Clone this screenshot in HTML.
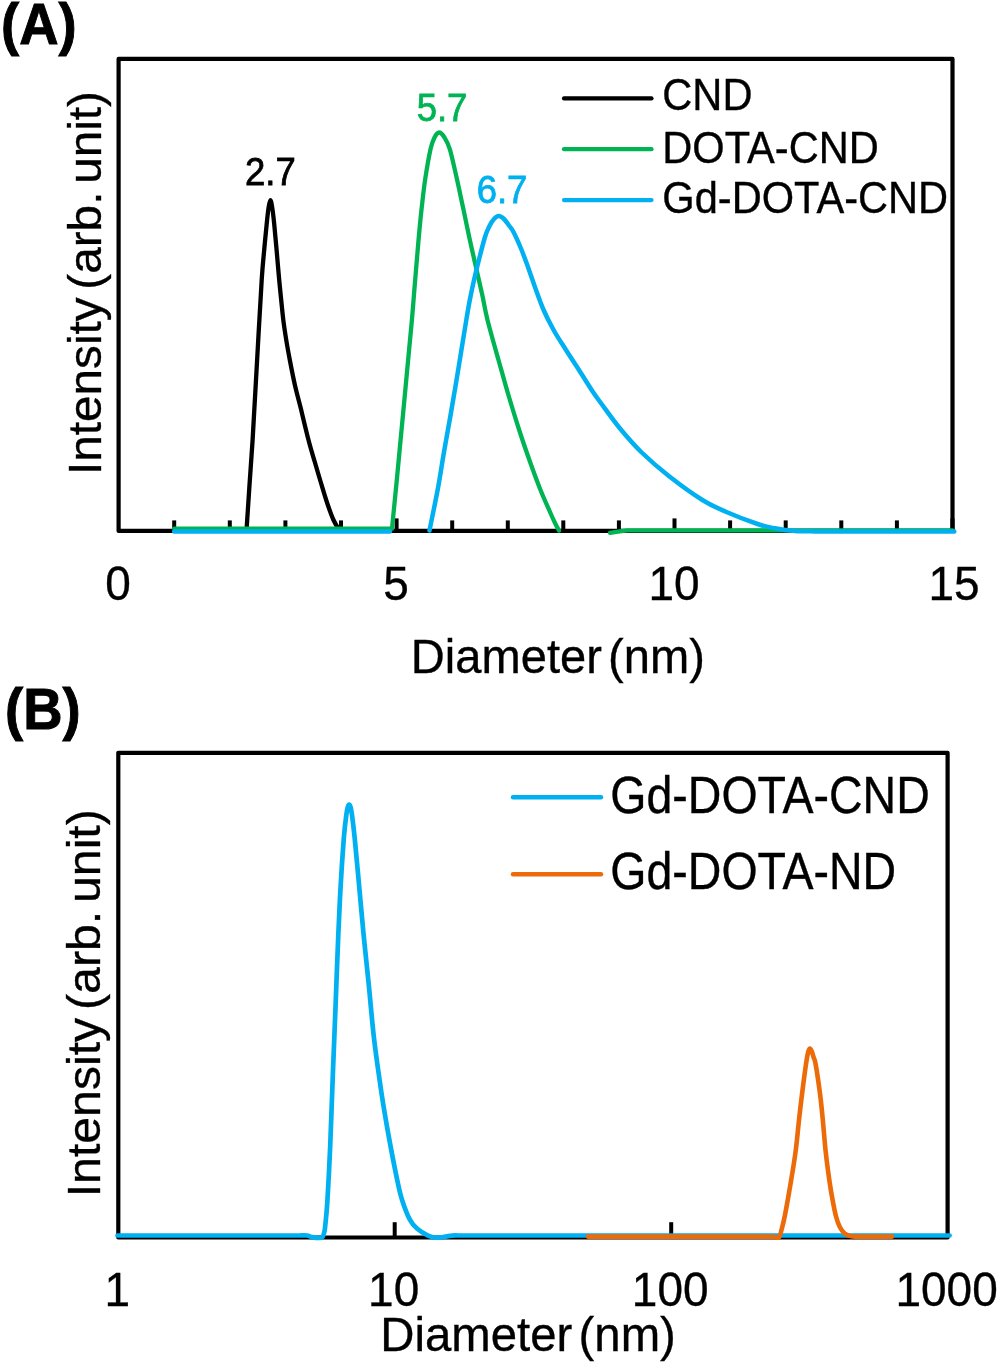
<!DOCTYPE html>
<html lang="en"><head><meta charset="utf-8"><title>DLS size distributions</title>
<style>
html,body{margin:0;padding:0;background:#fff;overflow:hidden}
svg{display:block;filter:blur(0.55px)}
text{font-family:"Liberation Sans",Arial,Helvetica,sans-serif}
</style></head><body>
<svg width="1000" height="1367" viewBox="0 0 1000 1367">
<rect width="1000" height="1367" fill="#fff"/>
<g id="panelA">
<rect x="118.6" y="58.8" width="833.9" height="472.1" fill="none" stroke="#000" stroke-width="4.2" stroke-linejoin="round"/>
<line x1="174.2" y1="530.9" x2="174.2" y2="520.4" stroke="#000" stroke-width="4"/>
<line x1="229.8" y1="530.9" x2="229.8" y2="520.4" stroke="#000" stroke-width="4"/>
<line x1="285.4" y1="530.9" x2="285.4" y2="520.4" stroke="#000" stroke-width="4"/>
<line x1="341.0" y1="530.9" x2="341.0" y2="520.4" stroke="#000" stroke-width="4"/>
<line x1="396.6" y1="530.9" x2="396.6" y2="518.4" stroke="#000" stroke-width="4"/>
<line x1="452.2" y1="530.9" x2="452.2" y2="520.4" stroke="#000" stroke-width="4"/>
<line x1="507.8" y1="530.9" x2="507.8" y2="520.4" stroke="#000" stroke-width="4"/>
<line x1="563.3" y1="530.9" x2="563.3" y2="520.4" stroke="#000" stroke-width="4"/>
<line x1="618.9" y1="530.9" x2="618.9" y2="520.4" stroke="#000" stroke-width="4"/>
<line x1="674.5" y1="530.9" x2="674.5" y2="518.4" stroke="#000" stroke-width="4"/>
<line x1="730.1" y1="530.9" x2="730.1" y2="520.4" stroke="#000" stroke-width="4"/>
<line x1="785.7" y1="530.9" x2="785.7" y2="520.4" stroke="#000" stroke-width="4"/>
<line x1="841.3" y1="530.9" x2="841.3" y2="520.4" stroke="#000" stroke-width="4"/>
<line x1="896.9" y1="530.9" x2="896.9" y2="520.4" stroke="#000" stroke-width="4"/>
<line x1="952.5" y1="530.9" x2="952.5" y2="518.4" stroke="#000" stroke-width="4"/>
<path d="M246.5 530.5 C247.0 522.9 248.5 500.1 249.5 485.0 C250.5 469.9 251.3 460.5 252.6 440.0 C253.8 419.5 255.5 388.7 257.0 362.0 C258.5 335.3 260.5 298.7 261.7 280.0 C262.9 261.3 263.4 259.2 264.2 250.0 C265.0 240.8 265.9 232.1 266.6 225.0 C267.3 217.9 268.0 211.6 268.6 207.5 C269.2 203.4 269.8 200.2 270.4 200.2 C271.0 200.2 271.5 203.4 272.2 207.5 C272.9 211.6 273.6 217.9 274.3 225.0 C275.0 232.1 275.8 240.8 276.6 250.0 C277.4 259.2 278.4 271.7 279.2 280.0 C280.0 288.3 280.5 293.3 281.2 300.0 C281.9 306.7 282.5 313.6 283.3 320.0 C284.1 326.4 284.9 331.5 286.0 338.5 C287.1 345.5 288.7 354.2 290.2 362.0 C291.7 369.8 293.2 377.6 295.0 385.4 C296.8 393.2 298.6 399.7 300.9 408.8 C303.1 417.9 306.2 431.1 308.5 440.0 C310.8 448.9 312.7 454.8 314.8 462.0 C316.9 469.2 318.9 476.0 321.0 483.0 C323.1 490.0 325.4 497.8 327.5 504.0 C329.6 510.2 331.5 515.6 333.5 520.0 C335.5 524.4 338.5 528.8 339.5 530.5" fill="none" stroke="#000" stroke-width="4.3" stroke-linejoin="round"/>
<path d="M174.2 528.7 L391.6 528.7 L392.0 528.7 C392.8 520.2 395.3 495.3 397.0 478.0 C398.7 460.7 400.3 442.7 402.0 425.0 C403.7 407.3 405.4 389.5 407.0 372.0 C408.6 354.5 410.8 332.8 411.9 320.0 C413.0 307.2 413.2 304.4 413.9 295.5 C414.6 286.6 415.5 276.1 416.3 266.3 C417.1 256.6 417.9 246.8 418.8 237.0 C419.7 227.2 420.6 217.6 421.7 207.8 C422.8 198.1 423.8 188.2 425.3 178.5 C426.8 168.8 429.0 156.1 430.5 149.3 C432.0 142.5 433.1 140.3 434.5 137.5 C435.9 134.7 437.5 132.5 439.2 132.5 C440.9 132.5 442.7 134.7 444.5 137.5 C446.3 140.3 447.8 142.5 449.9 149.3 C451.9 156.1 454.6 168.8 456.8 178.5 C459.0 188.2 461.0 198.1 463.1 207.8 C465.2 217.6 467.1 227.2 469.2 237.0 C471.3 246.8 473.6 256.6 475.8 266.3 C478.0 276.1 480.4 286.6 482.4 295.5 C484.3 304.4 484.8 309.2 487.5 320.0 C490.2 330.8 494.9 347.2 498.5 360.0 C502.1 372.8 505.5 385.2 509.0 397.0 C512.5 408.8 515.9 419.8 519.5 431.0 C523.1 442.2 527.3 454.2 530.8 464.0 C534.3 473.8 537.3 482.0 540.5 490.0 C543.7 498.0 547.6 506.5 550.0 512.0 C552.4 517.5 553.5 519.9 555.0 523.0 C556.5 526.1 558.3 529.2 559.0 530.5 M610 532.8 L618 531.6 L627 530.3 L952.5 530.3" fill="none" stroke="#00b454" stroke-width="4.3" stroke-linejoin="round" stroke-linecap="round"/>
<path d="M174.2 531.4 L390.0 531.4 M429.5 530.5 C430.9 523.4 435.6 501.1 438.0 488.0 C440.4 474.9 441.9 464.0 444.0 452.0 C446.1 440.0 448.0 430.0 450.4 416.0 C452.8 402.0 455.9 384.0 458.5 368.0 C461.1 352.0 464.3 332.1 466.3 320.0 C468.3 307.9 468.9 304.4 470.7 295.5 C472.5 286.6 474.9 276.1 477.3 266.3 C479.7 256.6 483.0 243.7 485.0 237.0 C487.0 230.3 488.0 229.0 489.5 226.0 C491.0 223.0 492.4 220.7 494.0 219.0 C495.6 217.3 497.1 216.0 498.8 216.0 C500.5 216.0 502.3 217.4 504.0 219.0 C505.7 220.6 507.4 223.3 509.0 225.5 C510.6 227.7 511.4 227.9 513.5 232.0 C515.6 236.1 519.0 243.7 521.6 250.0 C524.2 256.3 526.6 263.3 529.0 270.0 C531.4 276.7 533.6 283.3 536.0 290.0 C538.4 296.7 540.7 303.3 543.6 310.0 C546.5 316.7 549.9 323.3 553.6 330.0 C557.3 336.7 561.8 343.3 566.0 350.0 C570.2 356.7 574.5 363.0 579.0 370.0 C583.5 377.0 589.2 386.3 593.0 392.0 C596.8 397.7 597.2 398.0 601.6 404.0 C606.0 410.0 613.0 420.0 619.6 428.0 C626.2 436.0 633.0 444.0 641.2 452.0 C649.4 460.0 658.6 468.0 668.8 476.0 C679.0 484.0 692.8 494.0 702.4 500.0 C712.0 506.0 717.2 508.0 726.4 512.0 C735.6 516.0 749.5 521.3 757.6 524.0 C765.7 526.7 768.8 527.1 775.0 528.3 C781.2 529.5 788.3 530.5 795.0 531.0 C801.7 531.5 811.7 531.3 815.0 531.4 L954.3 531.4" fill="none" stroke="#00b0f0" stroke-width="4.5" stroke-linejoin="round" stroke-linecap="round"/>
<line x1="564" y1="98.4" x2="651.5" y2="98.4" stroke="#000" stroke-width="4.2" stroke-linecap="round"/>
<line x1="564" y1="149.2" x2="651.5" y2="149.2" stroke="#00b454" stroke-width="4.2" stroke-linecap="round"/>
<line x1="564" y1="200.1" x2="651.5" y2="200.1" stroke="#00b0f0" stroke-width="4.2" stroke-linecap="round"/>
<text transform="translate(662.3 109.7) scale(0.998 1.045)" font-size="41.7" fill="#000" stroke="#000" stroke-width="0.35">CND</text>
<text transform="translate(662.3 162.5) scale(0.998 1.045)" font-size="41.7" fill="#000" stroke="#000" stroke-width="0.35">DOTA-CND</text>
<text transform="translate(662.3 213.3) scale(0.998 1.045)" font-size="41.7" fill="#000" stroke="#000" stroke-width="0.35">Gd-DOTA-CND</text>
<text transform="translate(270.4 185.2) scale(1.000 1.080)" font-size="36.5" fill="#000" stroke="#000" stroke-width="0.75" text-anchor="middle">2.7</text>
<text transform="translate(442.0 121.2) scale(1.000 1.080)" font-size="36.5" fill="#00b454" stroke="#00b454" stroke-width="0.75" text-anchor="middle">5.7</text>
<text transform="translate(502.0 202.8) scale(1.000 1.080)" font-size="36.5" fill="#00b0f0" stroke="#00b0f0" stroke-width="0.75" text-anchor="middle">6.7</text>
<text transform="translate(118.1 599.6) scale(1.000 1.065)" font-size="46" fill="#000" stroke="#000" stroke-width="0.35" text-anchor="middle">0</text>
<text transform="translate(396.1 599.6) scale(1.000 1.065)" font-size="46" fill="#000" stroke="#000" stroke-width="0.35" text-anchor="middle">5</text>
<text transform="translate(674.0 599.6) scale(1.000 1.065)" font-size="46" fill="#000" stroke="#000" stroke-width="0.35" text-anchor="middle">10</text>
<text transform="translate(954.0 599.6) scale(1.000 1.065)" font-size="46" fill="#000" stroke="#000" stroke-width="0.35" text-anchor="middle">15</text>
<text transform="translate(410.8 673.0) scale(1.000 1.025)" font-size="47.1" fill="#000" stroke="#000" stroke-width="0.35" word-spacing="-6.9">Diameter (nm)</text>
<text transform="translate(100.8 475.0) rotate(-90) scale(1.000 0.967)" font-size="47.7" fill="#000" stroke="#000" stroke-width="0.35" word-spacing="-5.5">Intensity (arb. unit)</text>
<text transform="translate(1.0 44.0) scale(1.000 1.045)" font-size="54.5" fill="#000" stroke="#000" stroke-width="0.9" font-weight="bold">(A)</text>
</g>
<g id="panelB">
<rect x="118.3" y="752.8" width="829.3" height="484.7" fill="none" stroke="#000" stroke-width="4.2" stroke-linejoin="round"/>
<line x1="394.7" y1="1237.5" x2="394.7" y2="1222.2" stroke="#000" stroke-width="4"/>
<line x1="671.2" y1="1237.5" x2="671.2" y2="1222.2" stroke="#000" stroke-width="4"/>
<path d="M117.5 1235.5 L300 1235.5 L300.0 1235.5 C301.2 1235.5 305.0 1235.2 307.0 1235.5 C309.0 1235.8 310.2 1236.7 312.0 1237.1 C313.8 1237.5 316.3 1237.9 318.0 1237.9 C319.7 1237.9 321.2 1238.3 322.3 1237.3 C323.4 1236.3 323.8 1233.9 324.3 1232.0 C324.8 1230.1 324.7 1231.2 325.2 1226.0 C325.7 1220.8 326.6 1214.3 327.4 1201.0 C328.2 1187.7 329.3 1167.3 330.2 1146.0 C331.1 1124.7 332.0 1095.7 332.9 1073.0 C333.8 1050.3 334.5 1033.0 335.4 1010.0 C336.3 987.0 337.4 955.4 338.3 934.8 C339.2 914.2 339.7 902.7 340.6 886.6 C341.5 870.5 342.9 850.2 343.8 838.3 C344.8 826.4 345.6 820.2 346.3 815.0 C347.0 809.8 347.3 808.8 347.8 807.0 C348.3 805.2 348.7 804.5 349.1 804.5 C349.6 804.5 350.0 805.2 350.5 807.0 C351.0 808.8 351.3 809.8 352.0 815.0 C352.7 820.2 353.5 826.4 354.7 838.3 C355.9 850.2 357.7 870.5 359.2 886.6 C360.7 902.7 362.0 918.7 363.6 934.8 C365.2 950.9 366.9 966.1 368.6 983.1 C370.3 1000.1 372.1 1021.6 373.8 1036.6 C375.5 1051.6 376.9 1060.8 378.6 1073.0 C380.3 1085.2 382.1 1097.5 384.1 1109.7 C386.1 1121.9 388.2 1133.8 390.5 1146.0 C392.8 1158.2 395.8 1173.6 397.8 1182.8 C399.8 1192.0 400.4 1194.9 402.4 1201.0 C404.4 1207.1 407.3 1214.8 409.7 1219.4 C412.1 1224.0 413.9 1225.8 417.0 1228.5 C420.1 1231.2 424.9 1234.1 428.0 1235.6 C431.1 1237.1 432.8 1237.5 435.3 1237.7 C437.8 1237.9 440.3 1237.3 443.0 1237.0 C445.7 1236.7 448.9 1235.8 451.7 1235.6 C454.5 1235.3 458.6 1235.5 460.0 1235.5 L949.6 1235.5" fill="none" stroke="#00b0f0" stroke-width="4.7" stroke-linejoin="round" stroke-linecap="round"/>
<path d="M588.0 1236.6 L768 1236.6 L768.0 1236.6 C769.0 1236.6 772.3 1236.7 774.0 1236.9 C775.7 1237.1 777.1 1237.8 778.0 1237.8 C778.9 1237.8 779.0 1237.9 779.6 1236.6 C780.2 1235.3 780.6 1233.4 781.5 1230.0 C782.4 1226.6 783.6 1222.0 784.8 1216.0 C786.0 1210.0 787.5 1201.3 788.8 1194.0 C790.1 1186.7 791.3 1179.3 792.5 1172.0 C793.7 1164.7 794.7 1158.7 795.8 1150.0 C796.9 1141.3 798.0 1129.3 799.0 1120.0 C800.0 1110.7 800.8 1104.0 802.0 1094.4 C803.2 1084.8 805.2 1069.4 806.3 1062.2 C807.3 1055.0 807.7 1053.8 808.3 1051.5 C808.9 1049.2 809.4 1048.5 810.0 1048.5 C810.6 1048.5 811.2 1050.1 811.8 1051.5 C812.4 1052.9 812.9 1054.9 813.5 1057.0 C814.1 1059.1 814.5 1057.8 815.6 1064.0 C816.7 1070.2 818.9 1085.1 820.1 1094.4 C821.3 1103.7 821.9 1110.7 822.8 1120.0 C823.7 1129.3 824.6 1141.3 825.5 1150.0 C826.4 1158.7 827.2 1164.7 828.2 1172.0 C829.2 1179.3 830.2 1186.7 831.5 1194.0 C832.8 1201.3 834.5 1210.5 835.9 1216.0 C837.3 1221.5 838.3 1224.1 839.8 1227.0 C841.3 1229.9 842.8 1232.0 844.7 1233.6 C846.6 1235.1 849.1 1235.8 851.3 1236.3 C853.5 1236.8 856.9 1236.5 858.0 1236.6 L892.1 1236.6" fill="none" stroke="#ec6a08" stroke-width="4.6" stroke-linejoin="round" stroke-linecap="round"/>
<line x1="513" y1="797.3" x2="601" y2="797.3" stroke="#00b0f0" stroke-width="4.4" stroke-linecap="round"/>
<line x1="513" y1="874.2" x2="601" y2="874.2" stroke="#ec6a08" stroke-width="4.4" stroke-linecap="round"/>
<text transform="translate(610.3 812.6) scale(1.000 1.100)" font-size="46.5" fill="#000" stroke="#000" stroke-width="0.35">Gd-DOTA-CND</text>
<text transform="translate(610.3 889.4) scale(1.000 1.100)" font-size="46.5" fill="#000" stroke="#000" stroke-width="0.35">Gd-DOTA-ND</text>
<text transform="translate(117.3 1306.2) scale(1.000 1.065)" font-size="46" fill="#000" stroke="#000" stroke-width="0.35" text-anchor="middle">1</text>
<text transform="translate(393.7 1306.2) scale(1.000 1.065)" font-size="46" fill="#000" stroke="#000" stroke-width="0.35" text-anchor="middle">10</text>
<text transform="translate(670.2 1306.2) scale(1.000 1.065)" font-size="46" fill="#000" stroke="#000" stroke-width="0.35" text-anchor="middle">100</text>
<text transform="translate(946.6 1306.2) scale(1.000 1.065)" font-size="46" fill="#000" stroke="#000" stroke-width="0.35" text-anchor="middle">1000</text>
<text transform="translate(380.3 1351.3) scale(1.000 1.020)" font-size="47.35" fill="#000" stroke="#000" stroke-width="0.35" word-spacing="-6.9">Diameter (nm)</text>
<text transform="translate(99.5 1197.3) rotate(-90) scale(1.000 0.967)" font-size="48.2" fill="#000" stroke="#000" stroke-width="0.35" word-spacing="-5.5">Intensity (arb. unit)</text>
<text transform="translate(5.0 728.8) scale(1.000 1.045)" font-size="54.5" fill="#000" stroke="#000" stroke-width="0.9" font-weight="bold">(B)</text>
</g>
</svg>
</body></html>
